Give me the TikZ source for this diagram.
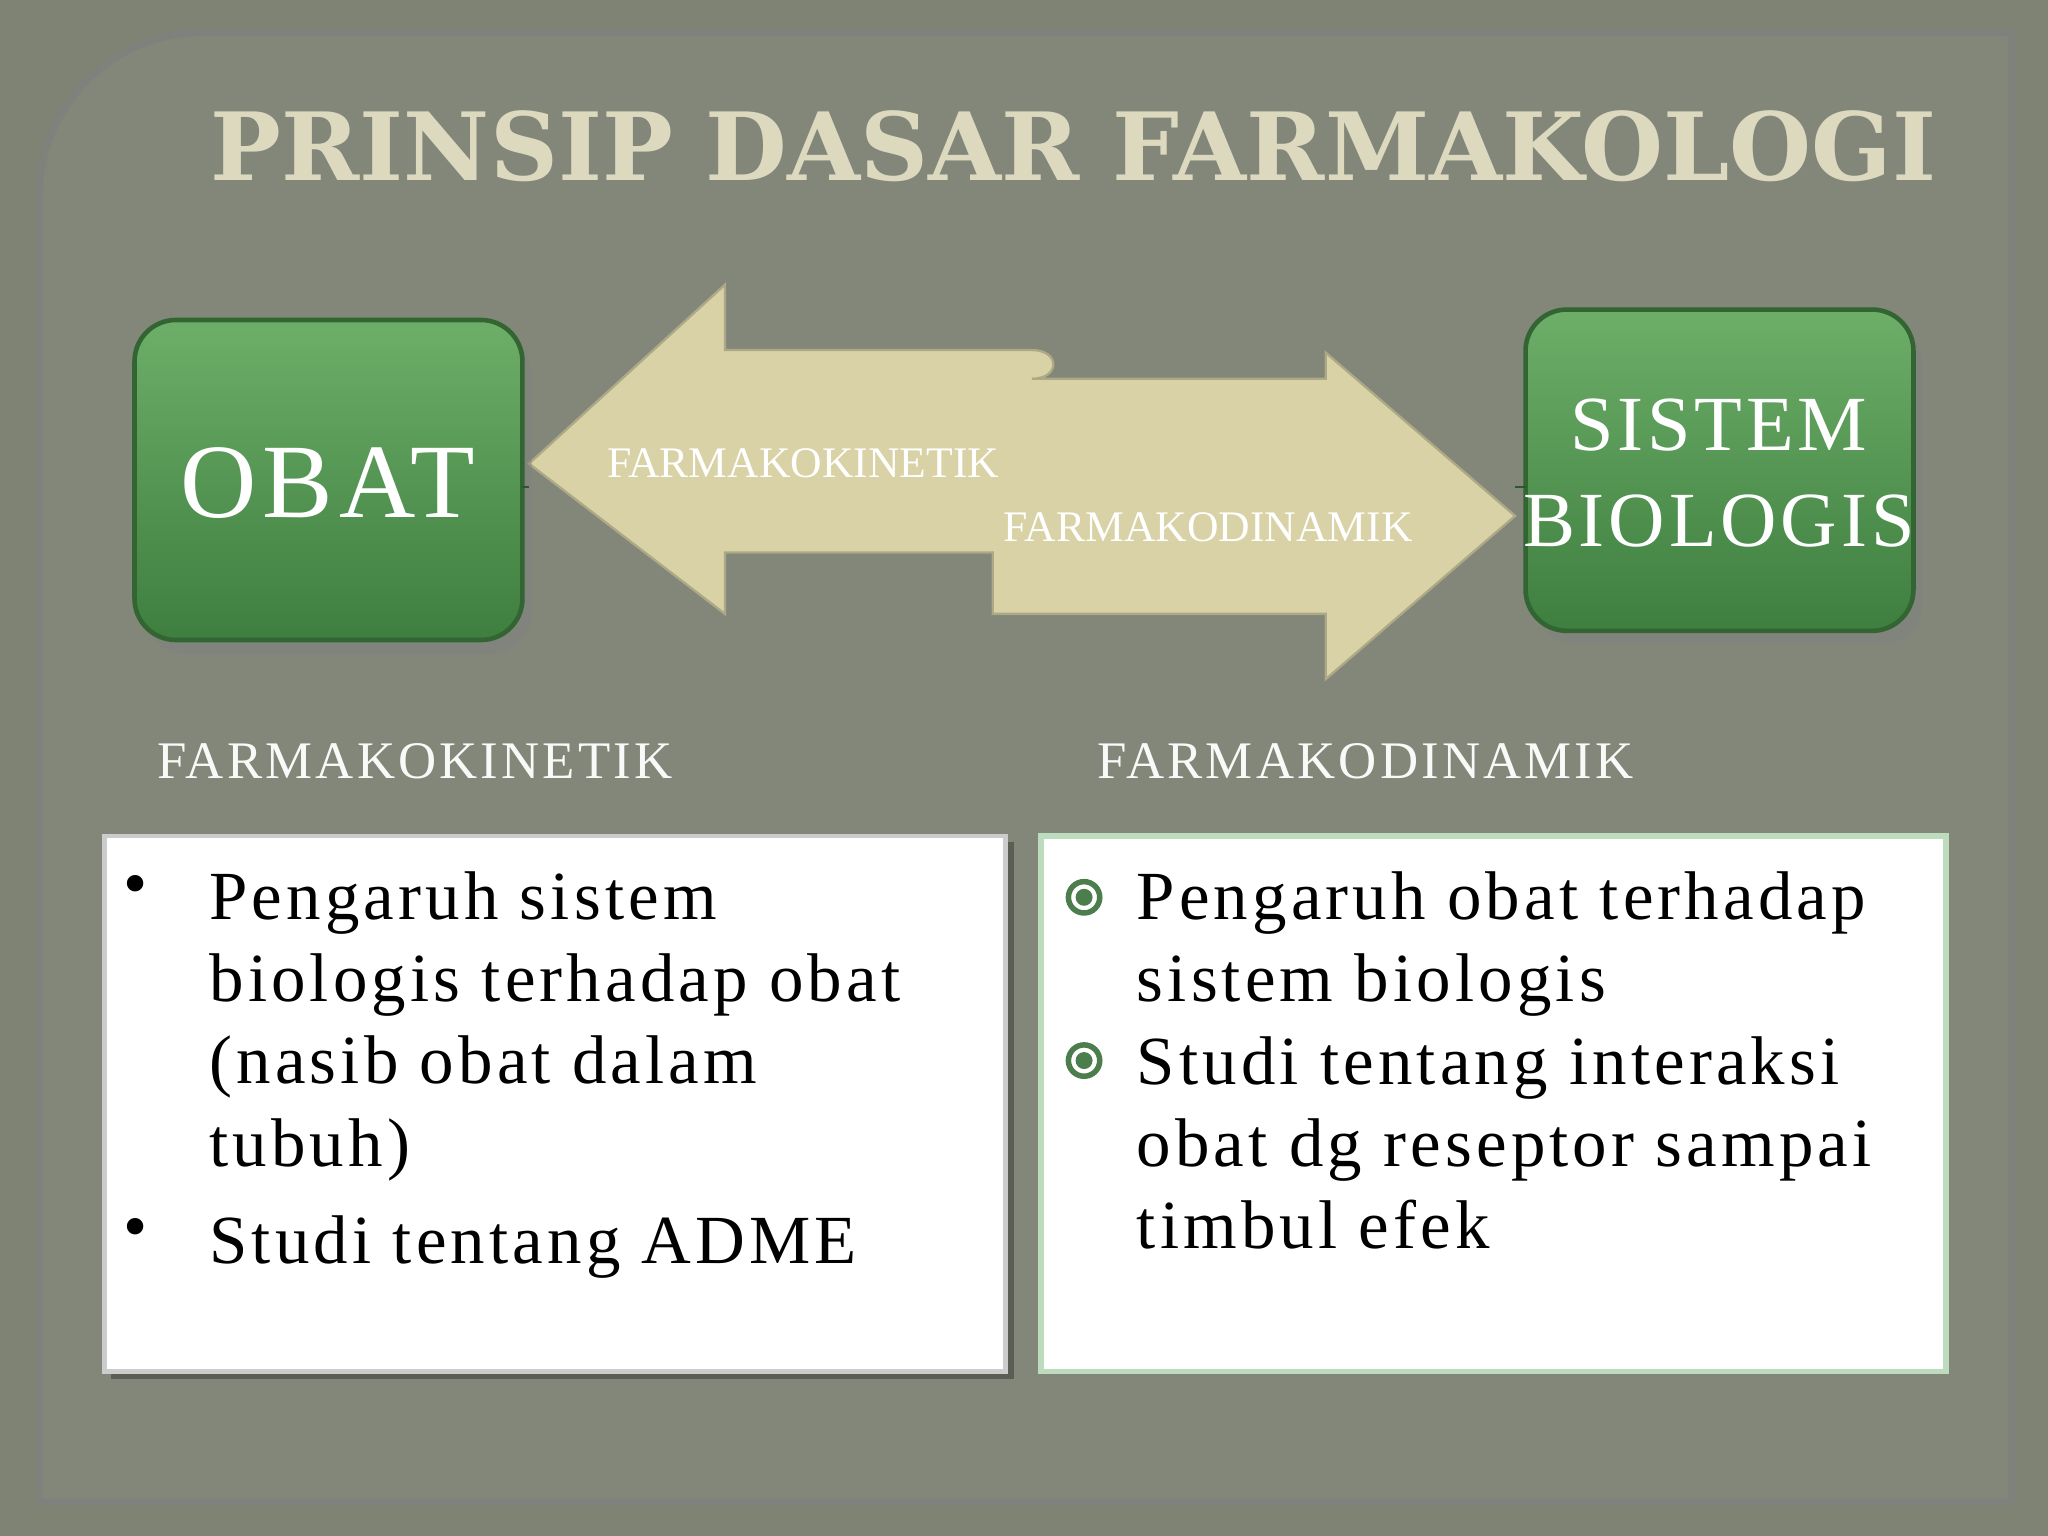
\documentclass[tikz,border=0pt]{standalone}
\usepackage{fontspec}
\setmainfont{Liberation Serif}
\newfontfamily\wide[LetterSpace=6]{Liberation Serif}
\newfontfamily\titlef{DejaVu Serif}
\usetikzlibrary{shadows}
\definecolor{bg}{HTML}{7E8374}
\definecolor{panel}{HTML}{82877A}
\definecolor{beige}{HTML}{D8D2A6}
\definecolor{gtop}{HTML}{6DAE69}
\definecolor{gbot}{HTML}{3E7E3F}
\definecolor{ttl}{HTML}{DCD9BE}
\tikzset{
 gbox/.style={rounded corners=9pt,top color=gtop,bottom color=gbot,draw=gbot!80!black,line width=1pt,
   drop shadow={shadow xshift=2pt,shadow yshift=-3pt,opacity=0.4}},
 arr/.style={fill=beige,draw=beige!80!black,line width=0.5pt},
 head/.style={text=white!95!bg,font=\wide\fontsize{11.5}{14}\selectfont,anchor=west},
 body/.style={font=\wide\fontsize{15}{17.9}\selectfont,anchor=north west,align=left},
}
\begin{document}
\begin{tikzpicture}[x=0.01cm,y=-0.01cm]
\fill[bg] (0,0) rectangle (1568,1176);
\useasboundingbox (0,0) rectangle (1568,1176);
\draw[fill=panel,draw=gray!70!bg,line width=1.5pt] (30,1150) -- (30,150) arc[start angle=180,end angle=90,x radius=125,y radius=-125] -- (1540,25) -- (1540,1150) -- cycle;
\node[text=ttl,font=\titlef\bfseries\fontsize{20.5}{23}\selectfont] (title) at (822,112) {PRINSIP DASAR FARMAKOLOGI};
% arrows
\draw[arr] (405,355) -- (555,218) -- (555,268) -- (790,268) .. controls (812,268) and (812,290) .. (790,290) -- (1015,290) -- (1015,270) -- (1160,395) -- (1015,520) -- (1015,470) -- (760,470) -- (760,423) -- (555,423) -- (555,470) -- cycle;
\draw[gbox] (103,245) rectangle (400,490);
\node[text=white,font=\wide\fontsize{23}{26}\selectfont] (obat) at (251,370) {OBAT};
\draw[gbox] (1168,237) rectangle (1465,483);
\node[text=white,font=\fontsize{17}{21}\selectfont\addfontfeatures{LetterSpace=5},align=center] (sis) at (1316,362) {SISTEM\\BIOLOGIS};
\coordinate (a1) at (405,373); \coordinate (a2) at (1160,373);
\draw[gbot!70!black] (400,373) -- (a1);
\draw[gbot!70!black] (a2) -- (1168,373);
\node[text=white,font=\fontsize{9.5}{11}\selectfont] (k) at (615,355) {FARMAKOKINETIK};
\node[text=white,font=\fontsize{9.5}{11}\selectfont] (d) at (925,404) {FARMAKODINAMIK};
\node[head] (h1) at (108,583) {FARMAKOKINETIK};
\node[head] (h2) at (828,583) {FARMAKODINAMIK};
% boxes
\fill[black,opacity=0.3] (85,645) rectangle (776,1056);
\fill[white] (80,640) rectangle (770,1050);
\draw[gray!40,line width=1pt] (80,640) rectangle (770,1050);
\fill[white] (797,640) rectangle (1490,1050);
\draw[green!30!gray!40,line width=1.2pt] (797,640) rectangle (1490,1050);
\node[body] (l1) at (148,655) {Pengaruh sistem\\biologis terhadap obat\\(nasib obat dalam\\tubuh)};
\node[font=\fontsize{15}{18}\selectfont] (b1) at (104,682) {•};
\node[body] (l2) at (148,918) {Studi tentang ADME};
\node[font=\fontsize{15}{18}\selectfont] (b2) at (104,945) {•};
\node[body] (r1) at (858,655) {Pengaruh obat terhadap\\sistem biologis};
\node[body] (r2) at (858,781) {Studi tentang interaksi\\obat dg reseptor sampai\\timbul efek};
\foreach \y in {687,812}{\draw[gbot!80!gray,line width=1.2pt] (830,\y) circle (12); \fill[gbot!80!gray] (830,\y) circle (6.5);}
\end{tikzpicture}
\end{document}
